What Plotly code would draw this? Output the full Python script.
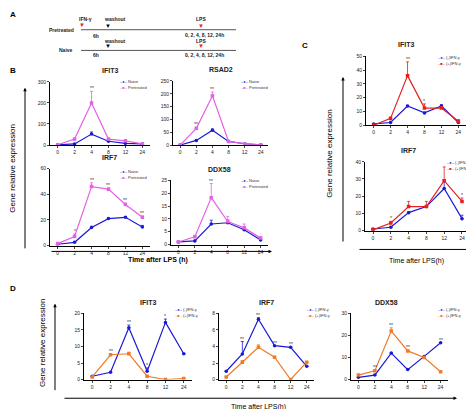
import plotly.graph_objects as go

W, H = 474, 409
times = ["0", "2", "4", "8", "12", "24"]
xi = list(range(6))

# panel B (naive vs pretreated)
b_ifit3_naive = [1, 5, 52, 18, 8, 5]
b_ifit3_naive_err = [0, 2, 10, 3, 3, 1]
b_ifit3_pre = [1, 28, 200, 28, 20, 5]
b_ifit3_pre_err = [0, 5, 55, 5, 5, 2]
b_ifit3_stars = ["", "", "**", "", "", ""]

b_rsad2_naive = [0, 18, 58, 14, 5, 1]
b_rsad2_naive_err = [0, 2, 5, 2, 1, 0]
b_rsad2_pre = [0, 65, 192, 14, 5, 1]
b_rsad2_pre_err = [0, 5, 15, 2, 1, 0]
b_rsad2_stars = ["", "**", "**", "", "", ""]

b_irf7_naive = [1, 2.5, 14, 21, 22, 14.5]
b_irf7_naive_err = [0.3, 0.5, 1, 0.5, 0.5, 1.2]
b_irf7_pre = [1.5, 7, 46, 44, 32, 22]
b_irf7_pre_err = [0.5, 2, 3, 1, 1, 1]
b_irf7_stars = ["", "*", "**", "**", "**", "**"]

b_ddx58_naive = [1, 1.4, 8, 8.5, 5.8, 1.8]
b_ddx58_naive_err = [0.2, 0.3, 1.5, 1, 0.8, 0.3]
b_ddx58_pre = [1, 3, 18.3, 9, 6.5, 2.5]
b_ddx58_pre_err = [0.3, 0.6, 5.5, 2, 1.5, 0.6]
b_ddx58_stars = ["", "", "**", "", "", ""]

# panel C
c_ifit3_minus = [1, 2, 14, 9, 14, 2]
c_ifit3_minus_err = [0.3, 0.5, 0.5, 0.5, 1, 0.5]
c_ifit3_plus = [0, 5, 36, 12.5, 12.5, 3]
c_ifit3_plus_err = [0, 1, 10, 3, 1, 1]
c_ifit3_stars = ["", "", "**", "*", "", ""]

c_irf7_minus = [1, 2, 10.5, 14, 24.5, 7]
c_irf7_minus_err = [0.3, 0.5, 0.5, 0.5, 5, 2]
c_irf7_plus = [0.5, 4.5, 14, 14, 29, 17]
c_irf7_plus_err = [0.3, 1, 3, 3, 8, 2]
c_irf7_stars = ["", "*", "", "", "", "*"]

# panel D
d_ifit3_minus = [1, 2.2, 15.7, 2.5, 17.3, 7.8]
d_ifit3_minus_err = [0, 0, 0.8, 1, 1, 0]
d_ifit3_plus = [0.8, 7.5, 7.8, 1, 0, 0.3]
d_ifit3_plus_err = [0, 0.3, 0.5, 0, 0, 0]
d_ifit3_stars = ["", "**", "**", "*", "*", ""]

d_irf7_minus = [1, 3.1, 7.3, 4.1, 3.9, 1.6]
d_irf7_minus_err = [0, 1.5, 0.2, 0, 0, 0]
d_irf7_plus = [0.3, 2.1, 3.9, 2.7, 0, 2.1]
d_irf7_plus_err = [0, 0.2, 0.3, 0.1, 0, 0]
d_irf7_stars = ["", "**", "**", "**", "**", ""]

d_ddx58_minus = [1, 2, 12, 4.5, 10.5, 16.7]
d_ddx58_minus_err = [0, 0, 0, 0, 0, 0]
d_ddx58_plus = [2, 4, 22, 13, 10, 3.5]
d_ddx58_plus_err = [0, 0.5, 1.5, 0.5, 0, 0.5]
d_ddx58_stars = ["", "**", "**", "**", "", "**"]

BLUE = "#1a1ad6"
PINK = "#e462e4"
RED = "#e42020"
ORANGE = "#f07a26"

fig = go.Figure()
annos = []
shapes = []


def px(x):
    return x / W


def py(y):
    return 1 - y / H


panels = [
    ("IFIT3", [("Naive", b_ifit3_naive, b_ifit3_naive_err, BLUE, "circle"),
               ("Pretreated", b_ifit3_pre, b_ifit3_pre_err, PINK, "square")],
     b_ifit3_stars, 300, 100, (42, 142, 72, 136), (110, 72)),
    ("RSAD2", [("Naive", b_rsad2_naive, b_rsad2_naive_err, BLUE, "circle"),
               ("Pretreated", b_rsad2_pre, b_rsad2_pre_err, PINK, "square")],
     b_rsad2_stars, 250, 50, (165, 260, 71, 136), (231, 72)),
    ("IRF7", [("Naive", b_irf7_naive, b_irf7_naive_err, BLUE, "circle"),
              ("Pretreated", b_irf7_pre, b_irf7_pre_err, PINK, "square")],
     b_irf7_stars, 60, 20, (42, 142, 160, 238), (110, 163)),
    ("DDX58", [("Naive", b_ddx58_naive, b_ddx58_naive_err, BLUE, "circle"),
               ("Pretreated", b_ddx58_pre, b_ddx58_pre_err, PINK, "square")],
     b_ddx58_stars, 25, 5, (163, 260, 172, 237), (231, 172)),
    ("IFIT3", [("(-)IFN-γ", c_ifit3_minus, c_ifit3_minus_err, BLUE, "circle"),
               ("(+)IFN-γ", c_ifit3_plus, c_ifit3_plus_err, RED, "square")],
     c_ifit3_stars, 50, 10, (358, 458, 46, 116), (428, 47)),
    ("IRF7", [("(-)IFN-γ", c_irf7_minus, c_irf7_minus_err, BLUE, "circle"),
              ("(+)IFN-γ", c_irf7_plus, c_irf7_plus_err, RED, "square")],
     c_irf7_stars, 40, 10, (357, 462, 153, 223), (437, 154)),
    ("IFIT3", [("(-)IFN-γ", d_ifit3_minus, d_ifit3_minus_err, BLUE, "circle"),
               ("(+)IFN-γ", d_ifit3_plus, d_ifit3_plus_err, ORANGE, "square")],
     d_ifit3_stars, 20, 5, (76, 184, 307, 374), (165, 303)),
    ("IRF7", [("(-)IFN-γ", d_irf7_minus, d_irf7_minus_err, BLUE, "circle"),
              ("(+)IFN-γ", d_irf7_plus, d_irf7_plus_err, ORANGE, "square")],
     d_irf7_stars, 8, 2, (211, 306, 307, 374), (297, 303)),
    ("DDX58", [("(-)IFN-γ", d_ddx58_minus, d_ddx58_minus_err, BLUE, "circle"),
               ("(+)IFN-γ", d_ddx58_plus, d_ddx58_plus_err, ORANGE, "square")],
     d_ddx58_stars, 30, 10, (343, 440, 307, 374), (428, 303)),
]

layout_axes = {}
for i, (title, series, stars, ymax, dtick, box, leg) in enumerate(panels):
    n = i + 1
    xa = "x" if n == 1 else f"x{n}"
    ya = "y" if n == 1 else f"y{n}"
    x0, x1, yt, yb = box
    for j, (name, vals, err, col, sym) in enumerate(series):
        fig.add_trace(go.Scatter(
            x=xi, y=vals, name=name, mode="lines+markers", showlegend=False,
            line=dict(color=col, width=1.2),
            marker=dict(symbol=sym, size=3.5, color=col),
            error_y=dict(type="data", array=err, arrayminus=[0] * 6,
                         color=col, thickness=0.8, width=1.5),
            xaxis=xa, yaxis=ya,
        ))
        # small hand-made legend entry
        glyph = "●" if sym == "circle" else "■"
        annos.append(dict(
            x=px(leg[0]), y=py(leg[1] + j * 6), xref="paper", yref="paper",
            xanchor="left", yanchor="middle", showarrow=False,
            text=f"<span style='color:{col}'>–{glyph}–</span> {name}",
            font=dict(size=4, color="#333")))
    top = [max(s[1][k] + s[2][k] for s in series) for k in range(6)]
    for k, s in enumerate(stars):
        if s:
            annos.append(dict(x=k, y=top[k], xref=xa, yref=ya, text=s,
                              showarrow=False, yanchor="bottom", yshift=-2,
                              font=dict(size=5, color="#333")))
    annos.append(dict(x=px((x0 + x1) / 2), y=py(yt - 6), xref="paper", yref="paper",
                      text=f"<b>{title}</b>", showarrow=False, yanchor="bottom",
                      font=dict(size=7, color="#222")))
    k2 = "" if n == 1 else str(n)
    layout_axes["xaxis" + k2] = dict(
        domain=[px(x0), px(x1)], anchor=ya, range=[-0.45, 5.45],
        tickvals=xi, ticktext=times, showline=True, linecolor="black",
        linewidth=1, ticks="outside", ticklen=2, tickfont=dict(size=5),
        showgrid=False, zeroline=False, fixedrange=True)
    layout_axes["yaxis" + k2] = dict(
        domain=[py(yb), py(yt)], anchor=xa, range=[0, ymax], dtick=dtick,
        showline=True, linecolor="black", linewidth=1, ticks="outside",
        ticklen=2, tickfont=dict(size=5), showgrid=False, zeroline=False)

# panel A timeline
for ly in (19, 40):
    shapes.append(dict(type="line", xref="paper", yref="paper",
                       x0=px(73), x1=px(228), y0=py(ly), y1=py(ly),
                       line=dict(color="#555", width=1)))


def txt(x, y, s, size=5, anchor="center", color="#222", bold=True):
    annos.append(dict(x=px(x), y=py(y), xref="paper", yref="paper",
                      text=f"<b>{s}</b>" if bold else s, showarrow=False,
                      xanchor=anchor, yanchor="middle",
                      font=dict(size=size, color=color)))


txt(74, 14, "▼", 6, color=RED, bold=False)
txt(100, 15, "▼", 6, color="black", bold=False)
txt(193, 15, "▼", 6, color=RED, bold=False)
txt(100, 36, "▼", 6, color="black", bold=False)
txt(193, 36, "▼", 6, color=RED, bold=False)
txt(77, 8, "IFN-γ")
txt(107, 8, "washout")
txt(193, 8, "LPS")
txt(68, 19, "Pretreated", anchor="right")
txt(88, 25, "6h")
txt(196, 24, "0, 2, 4, 8, 12, 24h")
txt(107, 30, "washout")
txt(193, 30, "LPS")
txt(67, 40, "Naive", anchor="right")
txt(88, 45, "6h")
txt(196, 45, "0, 2, 4, 8, 12, 24h")

for s, x, y in [("A", 5, 4), ("B", 5, 60), ("C", 297, 35), ("D", 5, 282)]:
    txt(x, y, s, 8, anchor="center", color="black")


def arrow(x0, y0, x1, y1):
    annos.append(dict(x=px(x1), y=py(y1), xref="paper", yref="paper",
                      ax=x0 - x1, ay=y0 - y1, axref="pixel", ayref="pixel",
                      showarrow=True, arrowhead=2, arrowsize=0.7, arrowwidth=1,
                      arrowcolor="black", text=""))


arrow(17, 240, 17, 78)
arrow(42, 244, 264, 244)
arrow(335, 233, 335, 67)
arrow(350, 242, 468, 242)
arrow(47, 385, 47, 297)
arrow(55, 393, 449, 393)

for x, y in [(5, 160), (322, 145), (34, 337)]:
    annos.append(dict(x=px(x), y=py(y), xref="paper", yref="paper", textangle=-90,
                      xanchor="center", yanchor="middle",
                      text="Gene relative expression", showarrow=False,
                      font=dict(size=8, color="black")))
txt(150, 253, "Time after LPS (h)", 7, bold=True, color="black")
txt(408, 254, "Time after LPS(h)", 7, bold=False, color="black")
txt(250, 402, "Time after LPS(h)", 7, bold=False, color="black")

fig.update_layout(
    width=W, height=H, margin=dict(l=0, r=0, t=0, b=0),
    plot_bgcolor="white", paper_bgcolor="white", showlegend=False,
    font=dict(family="Liberation Sans", color="#222"),
    annotations=annos, shapes=shapes, **layout_axes,
)

fig.write_html("out.html")
